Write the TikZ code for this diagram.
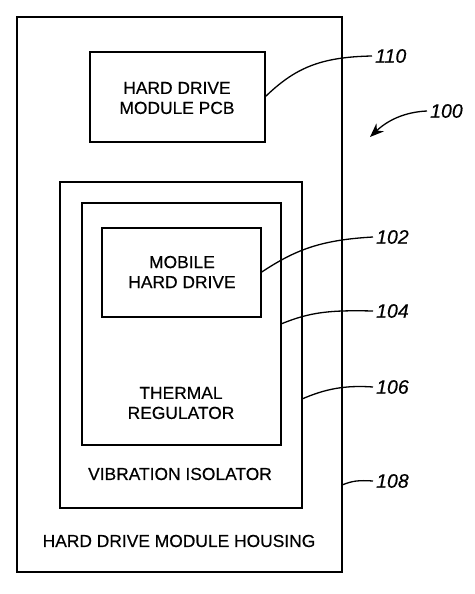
\documentclass[tikz,border=0pt]{standalone}
\usepackage{fontspec}
\setmainfont{Liberation Sans}
\usetikzlibrary{arrows.meta}
\begin{document}
\begin{tikzpicture}[x=1pt,y=-1pt,
  box/.style={draw, line width=1.5pt, inner sep=0pt, outer sep=0pt},
  txt/.style={align=center, font=\fontsize{17.4}{20}\selectfont\addfontfeature{FakeBold=0.4}, inner sep=0pt},
  ref/.style={anchor=west, inner sep=0pt, font=\fontsize{19.5}{20}\selectfont\itshape\addfontfeature{FakeBold=0.4}},
  lead/.style={line width=1.3pt}]
\useasboundingbox (0,0) rectangle (474,594);
% boxes
\node[box, minimum width=325pt, minimum height=555pt] (outer) at (179.5,294.5) {};
\node[box, minimum width=175pt, minimum height=90pt] (pcb) at (177.5,97) {};
\node[box, minimum width=242pt, minimum height=326pt] (vib) at (181,345) {};
\node[box, minimum width=199pt, minimum height=242pt] (therm) at (181.5,324) {};
\node[box, minimum width=159pt, minimum height=89pt] (mobile) at (181.5,272.5) {};
% texts
\node[txt] (tpcb) at (177,98) {HARD DRIVE\\MODULE PCB};
\node[txt] (tmob) at (182,272) {MOBILE\\HARD DRIVE};
\node[txt] (tthe) at (181,403) {THERMAL\\REGULATOR};
\node[txt] (tvib) at (180,474) {VIBRATION ISOLATOR};
\node[txt] (thou) at (179,541) {HARD DRIVE MODULE HOUSING};
% reference numerals
\node[ref] (l110) at (375,56) {110};
\node[ref] (l100) at (430,111) {100};
\node[ref] (l102) at (376,237) {102};
\node[ref] (l104) at (376,311) {104};
\node[ref] (l106) at (376,387) {106};
\node[ref] (l108) at (376,481) {108};
% leaders
\draw[lead] (pcb.east) .. controls (295,68) and (320,57) .. ([xshift=-3pt]l110.west);
\draw[lead] (mobile.east) .. controls (295,250) and (320,240) .. ([xshift=-3pt]l102.west);
\draw[lead] (therm.east) .. controls (310,312) and (330,310) .. ([xshift=-3pt]l104.west);
\draw[lead] ([yshift=-54pt]vib.east) .. controls (325,389) and (345,385) .. ([xshift=-3pt]l106.west);
\draw[lead] ([yshift=-190.5pt]outer.east) .. controls (352,481) and (358,480) .. ([xshift=-3pt]l108.west);
\draw[lead, -{Stealth[length=14pt,width=11pt]}] ([xshift=-3pt]l100.west) .. controls (405,112) and (388,120) .. (370,137);
\end{tikzpicture}
\end{document}
